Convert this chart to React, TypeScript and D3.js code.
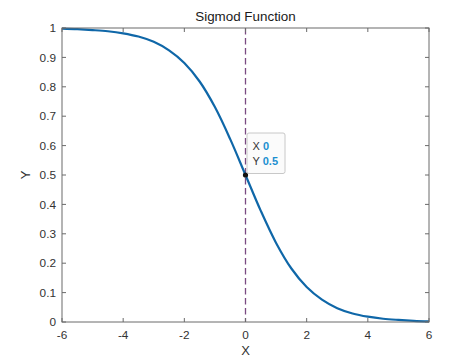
import React from "react";
import * as d3 from "d3";

const xValues = [-6, -5.5, -5, -4.5, -4, -3.5, -3, -2.5, -2, -1.5, -1, -0.5, 0, 0.5, 1, 1.5, 2, 2.5, 3, 3.5, 4, 4.5, 5, 5.5, 6];
const yValues = [0.998, 0.996, 0.993, 0.989, 0.982, 0.971, 0.953, 0.924, 0.881, 0.818, 0.731, 0.622, 0.5, 0.378, 0.269, 0.182, 0.119, 0.076, 0.047, 0.029, 0.018, 0.011, 0.007, 0.004, 0.002];
const xTicks = [-6, -4, -2, 0, 2, 4, 6];
const yTicks = [0, 0.1, 0.2, 0.3, 0.4, 0.5, 0.6, 0.7, 0.8, 0.9, 1];
const markerX = [0];
const tipX = 0;
const tipY = 0.5;
const title = "Sigmod Function";

const W = 474;
const H = 362;
const left = 62, right = 429, top = 28, bottom = 322;
const FONT = "'Liberation Sans', Arial, Helvetica, sans-serif";
const axisColor = "#6a6a6a";
const textColor = "#333333";

export default function App() {
  const x = d3.scaleLinear().domain([-6, 6]).range([left, right]);
  const y = d3.scaleLinear().domain([0, 1]).range([bottom, top]);
  const pts = xValues.map((v, i) => [v, yValues[i]] as [number, number]);
  const line = d3
    .line<[number, number]>()
    .x((d) => x(d[0]))
    .y((d) => y(d[1]))
    .curve(d3.curveCatmullRom.alpha(0.5));
  const tl = 4;
  const px = x(tipX);
  const py = y(tipY);
  return (
    <svg width={W} height={H} style={{ position: "absolute", left: 0, top: 0, background: "#fff" }} fontFamily={FONT}>
      <rect x={0} y={0} width={W} height={H} fill="#fff" />
      <text x={(left + right) / 2} y={21} textAnchor="middle" fontSize={13.4} fill="#1a1a1a">
        {title}
      </text>
      {markerX.map((m) => (
        <line key={m} x1={x(m)} x2={x(m)} y1={top} y2={bottom} stroke="#7a4a82" strokeWidth={1.3} strokeDasharray="6.5,3.5" />
      ))}
      <path d={line(pts) || ""} fill="none" stroke="#0f67a8" strokeWidth={2.2} />
      <rect x={left} y={top} width={right - left} height={bottom - top} fill="none" stroke={axisColor} strokeWidth={1} />
      {xTicks.map((t) => (
        <g key={"x" + t}>
          <line x1={x(t)} x2={x(t)} y1={bottom} y2={bottom - tl} stroke={axisColor} />
          <line x1={x(t)} x2={x(t)} y1={top} y2={top + tl} stroke={axisColor} />
          <text x={x(t)} y={339} textAnchor="middle" fontSize={11.8} fill={textColor}>
            {t}
          </text>
        </g>
      ))}
      {yTicks.map((t) => (
        <g key={"y" + t}>
          <line x1={left} x2={left + tl} y1={y(t)} y2={y(t)} stroke={axisColor} />
          <line x1={right} x2={right - tl} y1={y(t)} y2={y(t)} stroke={axisColor} />
          <text x={56} y={y(t) + 4.2} textAnchor="end" fontSize={11.8} fill={textColor}>
            {d3.format("~g")(t)}
          </text>
        </g>
      ))}
      <text x={(left + right) / 2} y={354.5} textAnchor="middle" fontSize={13} fill={textColor}>
        X
      </text>
      <text transform={`translate(30,${(top + bottom) / 2}) rotate(-90)`} textAnchor="middle" fontSize={13} fill={textColor}>
        Y
      </text>
      <circle cx={px} cy={py} r={2.6} fill="#111" />
      <rect x={px + 1.5} y={py - 42} width={38} height={40.5} rx={2} fill="#fbfbfb" stroke="#c8c8c8" strokeWidth={1} />
      <text x={px + 7} y={149.5} fontSize={11} fill={textColor}>
        X <tspan fill="#1b8fd0" fontWeight="bold">{tipX}</tspan>
      </text>
      <text x={px + 7} y={165} fontSize={11} fill={textColor}>
        Y <tspan fill="#1b8fd0" fontWeight="bold">{tipY}</tspan>
      </text>
    </svg>
  );
}
